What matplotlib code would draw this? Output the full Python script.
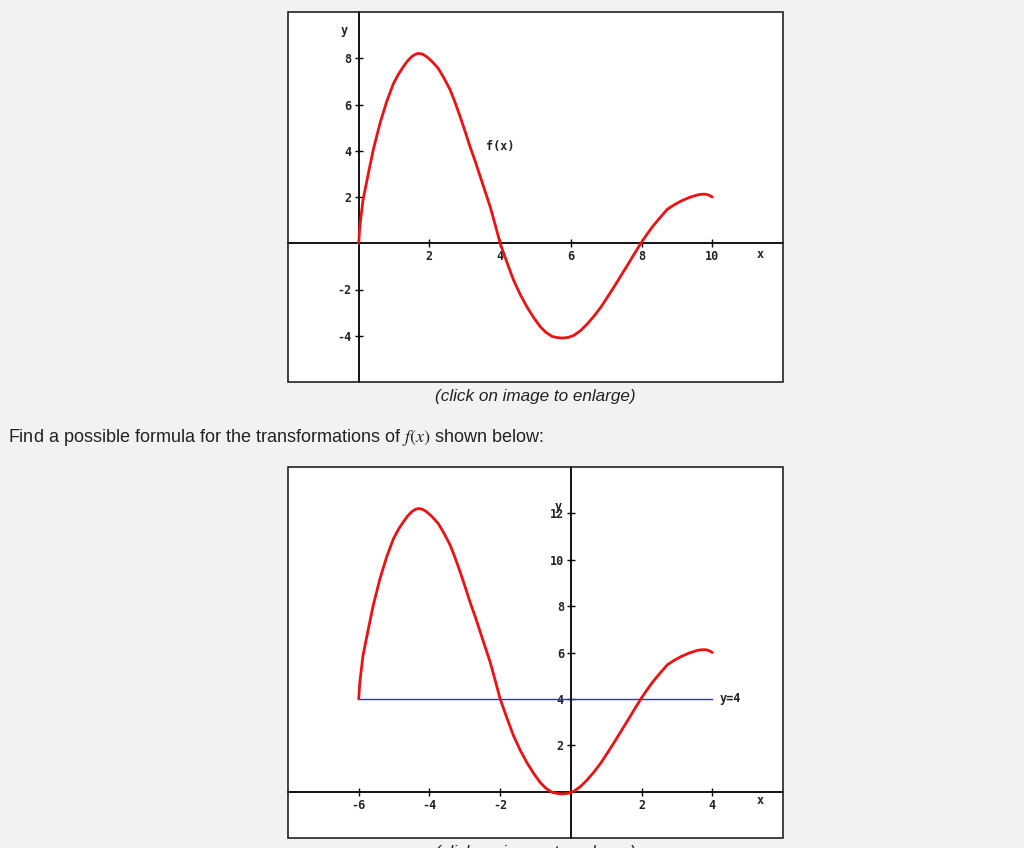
import matplotlib
matplotlib.use("Agg")
import matplotlib.pyplot as plt
from matplotlib.patches import Rectangle

# f(x)
fx = [0.0, 0.03, 0.12, 0.27, 0.41, 0.6, 0.79, 0.98, 1.12, 1.26, 1.38, 1.5, 1.6, 1.69,
      1.8, 1.92, 2.08, 2.25, 2.42, 2.59, 2.73, 2.87, 3.01, 3.15, 3.3, 3.44, 3.58, 3.72,
      3.86, 4.0, 4.19, 4.38, 4.57, 4.76, 4.95, 5.14, 5.3, 5.47, 5.62, 5.76, 5.93, 6.09,
      6.28, 6.47, 6.66, 6.85, 7.03, 7.22, 7.41, 7.6, 7.79, 7.98, 8.14, 8.3, 8.5, 8.73,
      8.92, 9.11, 9.35, 9.58, 9.7, 9.82, 9.92, 10.0]
fy = [0.0, 0.7, 1.86, 3.0, 4.03, 5.18, 6.12, 6.9, 7.3, 7.63, 7.88, 8.07, 8.17, 8.21,
      8.18, 8.07, 7.85, 7.56, 7.12, 6.62, 6.07, 5.47, 4.83, 4.17, 3.52, 2.87, 2.22, 1.57,
      0.8, 0.0, -0.82, -1.6, -2.22, -2.76, -3.22, -3.62, -3.86, -4.03, -4.08, -4.1, -4.07, -3.98,
      -3.77, -3.48, -3.14, -2.76, -2.34, -1.89, -1.42, -0.95, -0.47, 0.0, 0.36, 0.7, 1.07, 1.47,
      1.66, 1.82, 1.98, 2.09, 2.12, 2.12, 2.07, 2.0]

# transformed graph
gx = [-6.0, -5.97, -5.88, -5.73, -5.59, -5.4, -5.21, -5.02, -4.88, -4.74, -4.62, -4.5,
      -4.4, -4.31, -4.2, -4.08, -3.92, -3.75, -3.58, -3.41, -3.27, -3.13, -2.99, -2.85,
      -2.7, -2.56, -2.42, -2.28, -2.14, -2.0, -1.81, -1.62, -1.43, -1.24, -1.05, -0.86,
      -0.7, -0.53, -0.38, -0.24, -0.07, 0.09, 0.28, 0.47, 0.66, 0.85, 1.03, 1.22, 1.41,
      1.6, 1.79, 1.98, 2.14, 2.3, 2.5, 2.73, 2.92, 3.11, 3.35, 3.58, 3.7, 3.82, 3.92, 4.0]
gy = [4.0, 4.7, 5.86, 7.0, 8.03, 9.18, 10.12, 10.9, 11.3, 11.63, 11.88, 12.07, 12.17,
      12.21, 12.18, 12.07, 11.85, 11.56, 11.12, 10.62, 10.07, 9.47, 8.83, 8.17, 7.52,
      6.87, 6.22, 5.57, 4.8, 4.0, 3.18, 2.4, 1.78, 1.24, 0.78, 0.38, 0.14, -0.03, -0.08,
      -0.1, -0.07, 0.02, 0.23, 0.52, 0.86, 1.24, 1.66, 2.11, 2.58, 3.05, 3.53, 4.0, 4.36,
      4.7, 5.07, 5.47, 5.66, 5.82, 5.98, 6.09, 6.12, 6.12, 6.07, 6.0]
asym_x = [-6, 4]
asym_y = [4, 4]

top_xticks = [2, 4, 6, 8, 10]
top_yticks = [-4, -2, 2, 4, 6, 8]
bot_xticks = [-6, -4, -2, 2, 4]
bot_yticks = [2, 4, 6, 8, 10, 12]

bg = "#f2f2f2"
tickfont = {"family": "DejaVu Sans Mono", "weight": "bold", "size": 8.5}

plt.rcParams["axes.unicode_minus"] = False
plt.rcParams["mathtext.fontset"] = "stix"

fig = plt.figure(figsize=(10.24, 8.48), dpi=100)
fig.patch.set_facecolor(bg)


def setup(ax, xlim, ylim, xticks, yticks):
    ax.set_xlim(*xlim)
    ax.set_ylim(*ylim)
    ax.set_facecolor("white")
    for s in ["top", "right"]:
        ax.spines[s].set_visible(False)
    ax.spines["left"].set_position(("data", 0))
    ax.spines["bottom"].set_position(("data", 0))
    ax.spines["left"].set_linewidth(1.3)
    ax.spines["bottom"].set_linewidth(1.3)
    ax.set_xticks(xticks)
    ax.set_yticks(yticks)
    ax.tick_params(direction="inout", length=6, width=1, pad=2, colors="black")
    for lab in ax.get_xticklabels() + ax.get_yticklabels():
        lab.set_fontproperties(tickfont)
        lab.set_color("#222222")
    ax.add_patch(Rectangle((0, 0), 1, 1, transform=ax.transAxes, fill=False,
                           edgecolor="#222222", linewidth=1.2, clip_on=False, zorder=5))


# top graph
ax1 = fig.add_axes([288 / 1024, 1 - 382 / 848, 495 / 1024, 370 / 848])
setup(ax1, (-2, 12), (-6, 10), top_xticks, top_yticks)
ax1.plot(fx, fy, color="#ee1111", lw=2.0, solid_capstyle="round", zorder=3)
ax1.text(4.0, 4.2, "f(x)", ha="center", va="center", color="#222222", **tickfont)
ax1.text(-0.4, 9.2, "y", ha="center", va="center", color="#222222", **tickfont)
ax1.text(11.36, -0.5, "x", ha="center", va="center", color="#222222", **tickfont)

fig.text(535 / 1024, 1 - 396 / 848, "(click on image to enlarge)", ha="center", va="center",
         fontsize=12.3, style="italic", family="Liberation Sans", color="#222222")

fig.text(8 / 1024, 1 - 438 / 848,
         r"Find a possible formula for the transformations of $\mathsf{\ }\!\!f(x)$ shown below:",
         ha="left", va="center", fontsize=13, family="Liberation Sans", color="#222222")

# bottom graph
ax2 = fig.add_axes([288 / 1024, 1 - 838 / 848, 495 / 1024, 371 / 848])
setup(ax2, (-8, 6), (-2, 14), bot_xticks, bot_yticks)
ax2.plot(asym_x, asym_y, color="#3030cc", lw=1, zorder=2)
ax2.plot(gx, gy, color="#ee1111", lw=2.0, solid_capstyle="round", zorder=3)
ax2.text(4.2, 4.0, "y=4", ha="left", va="center", color="#222222", **tickfont)
ax2.text(-0.35, 12.3, "y", ha="center", va="center", color="#222222", **tickfont)
ax2.text(5.36, -0.4, "x", ha="center", va="center", color="#222222", **tickfont)

fig.text(535 / 1024, 1 - 845 / 848, "(click on image to enlarge)", ha="center", va="top",
         fontsize=12.3, style="italic", family="Liberation Sans", color="#222222")

fig.savefig("out.png", dpi=100, facecolor=bg)
